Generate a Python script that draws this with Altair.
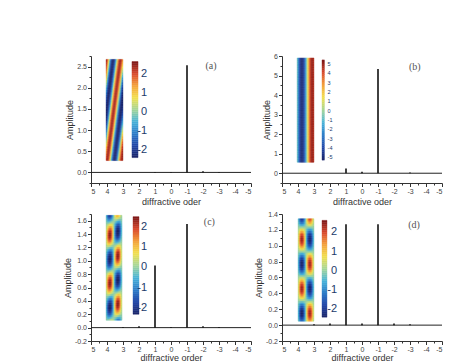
import altair as alt
import numpy as np
import pandas as pd

# ---------------- data ----------------
orders = [5, 4, 3, 2, 1, 0, -1, -2, -3, -4, -5]
amp_a = [0, 0, 0, 0, 0.01, 0.01, 2.53, 0.03, 0.01, 0, 0]
amp_b = [0, 0, 0, 0, 0.24, 0.07, 5.33, 0.0, 0.04, 0, 0]
amp_c = [0, 0, 0.01, 0.02, 0.93, 0.01, 1.55, 0.02, 0.01, 0, 0]
amp_d = [0, 0, 0.01, 0.02, 1.27, 0.02, 1.27, 0.02, 0.01, 0, 0]
amps = [amp_a, amp_b, amp_c, amp_d]

panel_labels = ["(a)", "(b)", "(c)", "(d)"]
panel_label_x = [-2.5, -3.3, -2.4, -3.25]
panel_label_y = [2.52, 5.44, 1.58, 1.26]
x_titles = ["diffractive oder", "diffractive oder", "diffractive order", "diffractive order"]
x_title_pad = [3, 3, 1, 1]
y_domains = [[-0.25, 2.75], [-0.5, 6.0], [-0.2, 1.7], [-0.2, 1.4]]
y_major = [0.5, 1.0, 0.2, 0.2]
y_minor = [0.25, 0.5, 0.1, 0.1]
y_formats = [".1f", "d", ".1f", ".1f"]

# inset phase-mask images: extent in (order, amplitude) units
img_xl = [4.06, 4.06, 4.06, 4.0]
img_xr = [3.0, 3.0, 3.06, 3.0]
img_yb = [0.28, 0.56, 0.11, 0.05]
img_yt = [2.67, 5.9, 1.68, 1.34]
# colour bars
cb_xl = [2.44, 2.5, 2.375, 2.5]
cb_xr = [2.06, 2.35, 2.0, 2.19]
cb_yb = [0.35, 0.67, 0.2, 0.1]
cb_yt = [2.62, 5.8, 1.66, 1.32]
cb_vmin = [-2.42, -5.31, -2.3, -2.41]
cb_vmax = [2.65, 5.42, 2.49, 2.62]
cb_ticks = [[2, 1, 0, -1, -2], [5, 4, 3, 2, 1, 0, -1, -2, -3, -4, -5],
            [2, 1, 0, -1, -2], [2, 1, 0, -1, -2]]
cb_label_x = [1.5, 2.15, 1.5, 1.56]
cb_label_align = ["right", "left", "right", "right"]
cb_label_size = [11, 5.5, 11, 11]

jet = ["#1b2468", "#2347a8", "#2f7cc9", "#48b4da", "#a6d79b",
       "#f2e04f", "#f4a23c", "#d9472c", "#7a1616"]


def phase(k, u, w):
    if k == 0:
        return 2.4 * np.cos(2 * np.pi * (u - 0.78 * w - 0.08) / 0.85)
    if k == 1:
        return -5.0 * np.cos(2 * np.pi * (u - 0.3) / 1.2)
    if k == 2:
        return 2.4 * np.sin(2 * np.pi * u) * np.sin(2 * np.pi * (w - 0.715 - 0.06 * (u - 0.5)) / 0.46)
    return 2.4 * np.sin(2 * np.pi * u) * np.sin(2 * np.pi * (w - 0.68) / 0.48)


color_scale = alt.Scale(domain=[i / (len(jet) - 1) for i in range(len(jet))],
                        range=jet, interpolate="rgb")

NX, NY, NC = 16, 60, 48


def panel(k):
    xs = alt.Scale(domain=[-5, 5], reverse=True, nice=False, zero=False)
    ys = alt.Scale(domain=y_domains[k], nice=False, zero=False)
    xvals = [v / 2 for v in range(10, -11, -1)]
    xaxis = alt.Axis(
        values=xvals, title=x_titles[k],
        labelExpr="datum.value % 1 === 0 ? toString(datum.value) : ''",
        tickSize={"condition": {"test": "datum.value % 1 !== 0", "value": 2}, "value": 3.5},
        labelOverlap=False, titlePadding=x_title_pad[k], labelPadding=1,
    )
    lo, hi = y_domains[k]
    st = y_minor[k]
    n = int(round((hi - lo) / st))
    yvals = [round(lo + i * st, 4) for i in range(n + 1)]
    mj = y_major[k]
    yaxis = alt.Axis(
        values=yvals, title="Amplitude",
        labelExpr=(f"abs(datum.value/{mj} - round(datum.value/{mj})) < 1e-6 ? "
                   f"replace(format(datum.value, '{y_formats[k]}'), '\u2212', '-') : ''"),
        tickSize={"condition": {"test": f"abs(datum.value/{mj} - round(datum.value/{mj})) > 1e-6",
                                "value": 2}, "value": 3.5},
        labelOverlap=False, titlePadding=2, labelPadding=1,
    )

    def X(f):
        return alt.X(f, type="quantitative", scale=xs, axis=xaxis)

    def Y(f):
        return alt.Y(f, type="quantitative", scale=ys, axis=yaxis)

    main = pd.DataFrame({"order": orders, "amp": amps[k], "zero": 0.0})
    spikes = alt.Chart(main).mark_rule(color="#111", strokeWidth=1.6).encode(
        x=X("order"), y=Y("zero"), y2="amp")
    zline = alt.Chart(pd.DataFrame({"zero": [0.0]})).mark_rule(
        color="#222", strokeWidth=1).encode(y=Y("zero"))

    # inset image cells
    rows = []
    for i in range(NX):
        for j in range(NY):
            u = (i + 0.5) / NX
            w = (j + 0.5) / NY
            v = phase(k, u, w)
            t = min(max((v - cb_vmin[k]) / (cb_vmax[k] - cb_vmin[k]), 0), 1)
            rows.append({
                "x0": img_xl[k] + (img_xr[k] - img_xl[k]) * i / NX,
                "x1": img_xl[k] + (img_xr[k] - img_xl[k]) * (i + 1) / NX,
                "y0": img_yb[k] + (img_yt[k] - img_yb[k]) * j / NY,
                "y1": img_yb[k] + (img_yt[k] - img_yb[k]) * (j + 1) / NY,
                "t": t})
    for j in range(NC):
        rows.append({
            "x0": cb_xl[k], "x1": cb_xr[k],
            "y0": cb_yb[k] + (cb_yt[k] - cb_yb[k]) * j / NC,
            "y1": cb_yb[k] + (cb_yt[k] - cb_yb[k]) * (j + 1) / NC,
            "t": (j + 0.5) / NC})
    cells = pd.DataFrame(rows)
    img = alt.Chart(cells).mark_rect(strokeWidth=0.4).encode(
        x=X("x0"), x2="x1", y=Y("y0"), y2="y1",
        color=alt.Color("t:Q", scale=color_scale, legend=None),
        stroke=alt.Stroke("t:Q", scale=color_scale, legend=None))

    ticks = cb_ticks[k]
    tdf = pd.DataFrame({
        "x": [cb_label_x[k]] * len(ticks),
        "y": [cb_yb[k] + (cb_yt[k] - cb_yb[k]) * (v - cb_vmin[k]) / (cb_vmax[k] - cb_vmin[k])
              for v in ticks],
        "s": [str(v) for v in ticks]})
    tlab = alt.Chart(tdf).mark_text(
        align=cb_label_align[k], baseline="middle", fontSize=cb_label_size[k],
        font="Liberation Sans", color="#223a6a").encode(x=X("x"), y=Y("y"), text="s:N")

    ldf = pd.DataFrame({"x": [panel_label_x[k]], "y": [panel_label_y[k]], "s": [panel_labels[k]]})
    plab = alt.Chart(ldf).mark_text(
        align="center", baseline="middle", fontSize=10, font="Liberation Serif",
        color="#555").encode(x=X("x"), y=Y("y"), text="s:N")

    return alt.layer(zline, spikes, img, tlab, plab).properties(width=160, height=127)


chart = alt.concat(panel(0), panel(1), panel(2), panel(3), columns=2,
                   spacing={"row": 3, "column": 2}).properties(
    padding={"left": 55, "top": 44, "right": 2, "bottom": 0}
).configure_view(strokeWidth=0).configure_axis(
    grid=False, labelFont="Liberation Sans", labelFontSize=7, labelColor="#444",
    titleFont="Liberation Sans", titleFontSize=9, titleFontWeight="normal",
    titleColor="#333", domainColor="#333", tickColor="#333", domainWidth=1,
).configure_scale(continuousPadding=0)

chart.save("out.html", embed_options={"renderer": "svg", "actions": False})
